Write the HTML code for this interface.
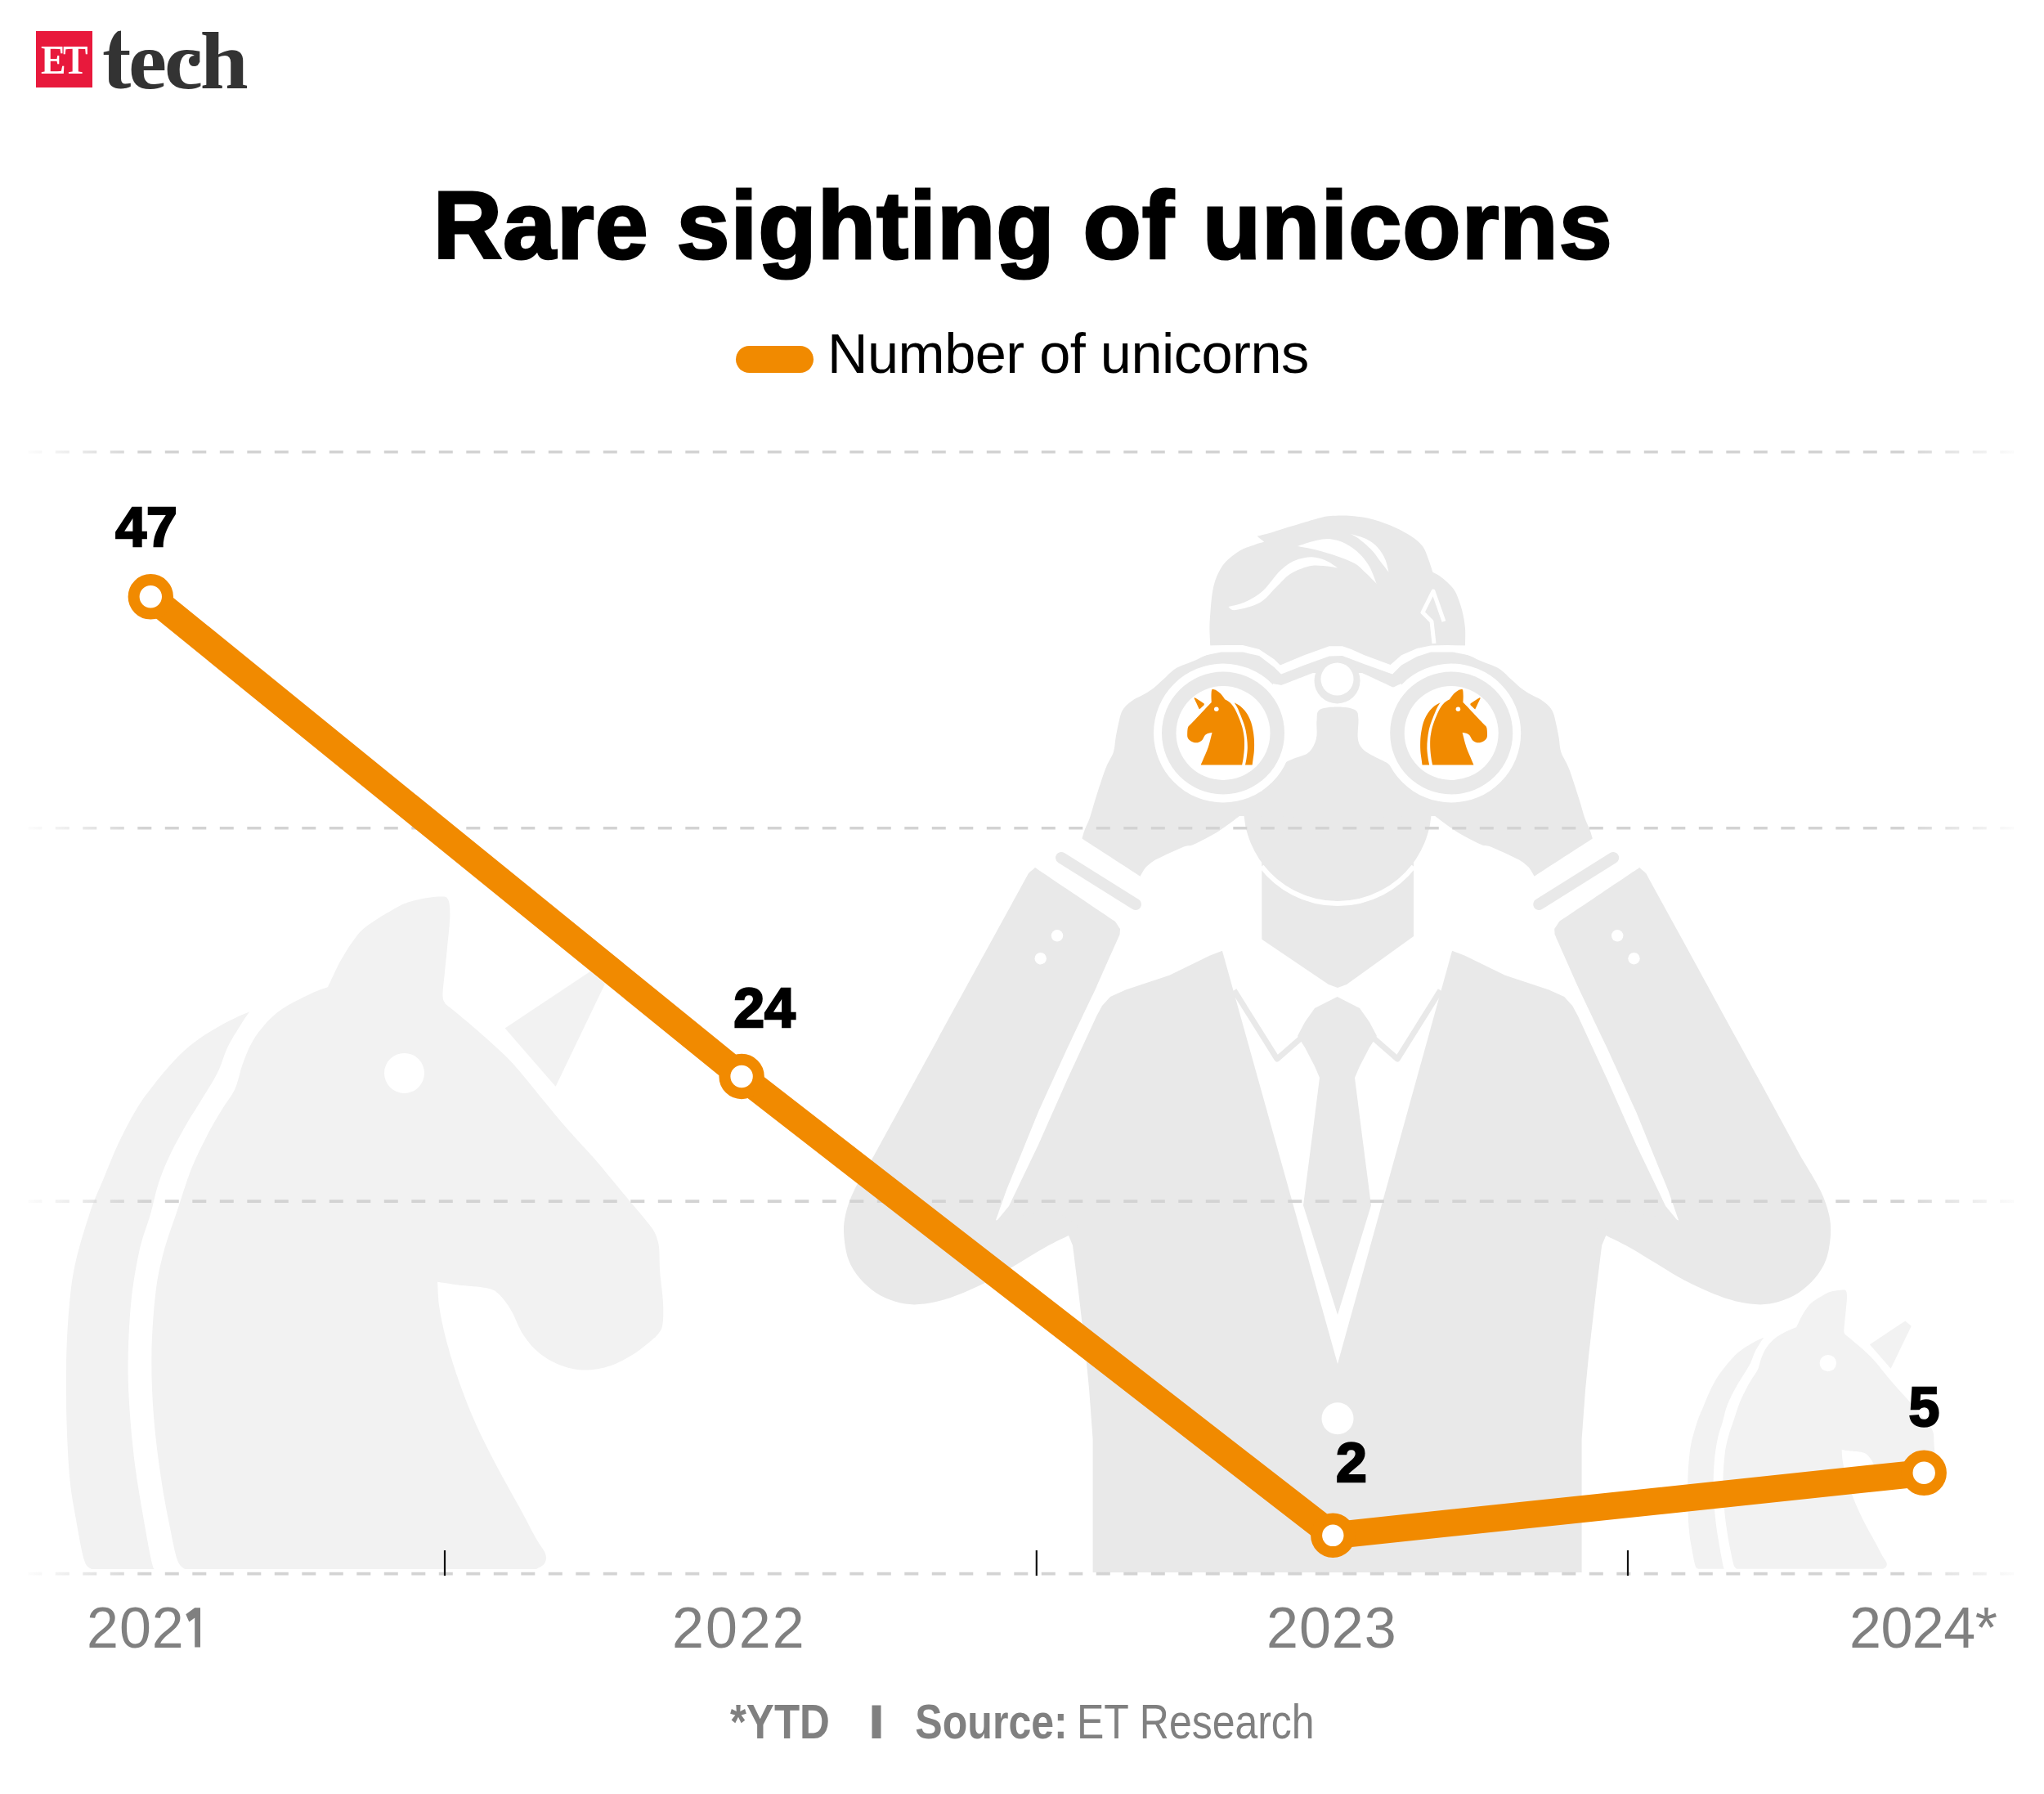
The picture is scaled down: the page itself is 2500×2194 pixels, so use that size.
<!DOCTYPE html>
<html><head><meta charset="utf-8">
<style>
html,body{margin:0;padding:0;background:#fff;width:2500px;height:2194px;overflow:hidden}
svg{position:absolute;left:0;top:0;display:block}
text{font-family:"Liberation Sans",sans-serif}
</style></head>
<body>
<svg width="2500" height="2194" viewBox="0 0 2500 2194">
<defs>
<linearGradient id="gfade" x1="0" y1="0" x2="2500" y2="0" gradientUnits="userSpaceOnUse">
<stop offset="0.01" stop-color="#d3d3d3" stop-opacity="0"/>
<stop offset="0.07" stop-color="#d3d3d3" stop-opacity="1"/>
<stop offset="0.93" stop-color="#d3d3d3" stop-opacity="1"/>
<stop offset="0.99" stop-color="#d3d3d3" stop-opacity="0"/>
</linearGradient>
</defs>

<!-- logo -->
<rect x="44" y="38" width="69" height="69" fill="#e8193c"/>
<text transform="translate(50 90) scale(0.9 1)" style="font-family:'Liberation Serif'" font-weight="bold" font-size="51" fill="#fff" letter-spacing="-4">ET</text>
<text transform="translate(125 107.5) scale(1.06 1)" style="font-family:'Liberation Serif'" font-weight="bold" font-size="100" fill="#333" letter-spacing="-3">tech</text>

<path d="M133.5,62 C134,52 138,43 144,38.2 L148,37.6 L148,62 Z" fill="#333"/>
<circle cx="237.5" cy="74.5" r="6.6" fill="#333"/>
<!-- title -->
<text x="530" y="315.5" font-weight="bold" font-size="116" fill="#000" stroke="#000" stroke-width="3.2" stroke-linejoin="miter" letter-spacing="1.52">Rare sighting of unicorns</text>

<!-- legend -->
<rect x="900" y="423" width="95" height="33" rx="16.5" fill="#f18a00"/>
<text x="1012" y="456" font-size="68.5" fill="#000" letter-spacing="-0.5">Number of unicorns</text>

<!-- silhouettes -->
<g fill="#f2f2f2"><path d="M112,1919C110.5,1917.2 106.2,1918.5 103,1908C99.8,1897.5 95.6,1873.2 92.6,1856.2C89.6,1839.2 87,1826.9 85.1,1806C83.2,1785.1 81.9,1755.9 81.3,1730.8C80.7,1705.7 80.7,1678.5 81.3,1655.5C81.9,1632.5 83.2,1611.7 85.1,1592.9C87,1574.1 88.3,1561.5 92.6,1542.7C96.9,1523.9 105.3,1496.9 111,1480C116.7,1463.1 121.2,1454.7 126.8,1441.2C132.4,1427.7 137.9,1412.9 144.6,1398.8C151.3,1384.7 159.5,1368.8 166.9,1356.5C174.3,1344.2 180.6,1336.1 189.2,1325.3C197.8,1314.5 208.9,1301.1 218.2,1291.8C227.5,1282.5 234.9,1276.5 244.9,1269.5C254.9,1262.5 268.4,1254.9 278.4,1249.5C288.4,1244.1 300.7,1239.2 305.1,1237.2C303.2,1240 298.4,1246.8 294,1254C289.6,1261.2 283.1,1271 278.4,1280.7C273.7,1290.4 271.6,1300.8 266,1312C260.4,1323.2 251.4,1336.8 244.9,1347.6C238.4,1358.3 233.4,1365.4 227.1,1376.5C220.8,1387.6 212.6,1402.5 207,1414.4C201.4,1426.3 197.4,1436.1 193.6,1447.9C189.8,1459.7 187.9,1471.3 184,1485C180.1,1498.7 174.2,1512.2 170.3,1530.2C166.4,1548.2 162.6,1569.9 160.3,1592.9C158,1615.9 156.8,1645.1 156.6,1668.1C156.4,1691.1 157.6,1709.9 159,1730.8C160.4,1751.7 162.6,1772.6 165.3,1793.5C168,1814.4 172,1836.5 175.4,1856.2C178.8,1876 183.6,1901.5 186,1912C188.4,1922.5 189.3,1917.8 190,1919C177,1919 125,1919 112,1919Z"/><path d="M226,1919C224.5,1917.2 220,1916.4 217,1908C214,1899.6 211.4,1885.7 208,1868.7C204.6,1851.7 200,1829 196.7,1806C193.3,1783 189.8,1755.9 187.9,1730.8C186,1705.7 185,1680.6 185.4,1655.5C185.8,1630.4 187.9,1601.2 190.4,1580.3C192.9,1559.4 196,1546.9 200.4,1530.2C204.8,1513.5 211.4,1496.7 217,1480C222.6,1463.3 227.7,1445.4 233.8,1430C239.9,1414.6 247.5,1400 253.8,1387.7C260.1,1375.5 266.1,1365.8 271.7,1356.5C277.3,1347.2 283.2,1340.9 287.3,1332C291.4,1323.1 292.9,1312.3 296.2,1303C299.5,1293.7 302.9,1284.4 307.4,1276.2C311.9,1268 316.7,1261 323,1253.9C329.3,1246.8 336,1240.1 345.3,1233.8C354.6,1227.5 369.4,1220.5 378.7,1216C388,1211.5 397.3,1208.6 401,1207.1C402.5,1203.9 407.2,1193.8 410,1188C412.8,1182.2 414.5,1178.6 418,1172.6C421.5,1166.6 426.1,1158.5 431,1152C435.9,1145.5 438.2,1140.6 447.5,1133.4C456.8,1126.2 476.3,1114.4 486.7,1108.9C497.1,1103.4 501.4,1102.6 510,1100.5C518.5,1098.4 531.7,1096.6 538,1096.5C544.3,1096.4 545.9,1096.1 548,1100C550.1,1103.9 550.5,1110.3 550.4,1120C550.2,1129.7 548.2,1146.1 547.1,1158C546,1169.9 544.6,1181.5 543.7,1191.5C542.8,1201.5 541.3,1212.1 541.5,1218.2C541.7,1224.3 544.4,1226.4 545,1228C547.5,1230 551.9,1233.2 560,1240C568.1,1246.8 582.2,1258.5 593.4,1268.5C604.5,1278.5 615.8,1288.3 626.9,1300.3C638,1312.3 649.1,1327 660.3,1340.4C671.4,1353.8 682.6,1367.7 693.8,1380.5C704.9,1393.3 716.1,1404.5 727.2,1417.3C738.4,1430.1 749.6,1444.1 760.7,1457.5C771.9,1470.9 787.2,1488.8 794.1,1497.6C801,1506.3 800.7,1507.9 802,1510C802.7,1512.5 805.1,1517.5 806,1525C806.9,1532.5 806.4,1543.9 807.2,1555.2C808,1566.5 810.5,1581.8 811,1592.9C811.5,1604 811.5,1615 810,1622C808.5,1629 803.3,1632.8 802,1635C797.6,1638.4 785.3,1649.6 775.9,1655.5C766.5,1661.4 755.8,1667.2 745.8,1670.6C735.8,1673.9 725.3,1675.6 715.7,1675.6C706.1,1675.6 697.3,1673.9 688.1,1670.6C678.9,1667.2 668.5,1661.8 660.5,1655.5C652.5,1649.2 646.2,1641.8 640.4,1633C634.5,1624.2 630.4,1611.3 625.4,1602.9C620.4,1594.5 615.3,1587.4 610.3,1582.8C605.3,1578.2 603.6,1577.2 595.3,1575.3C586.9,1573.4 570.2,1572.8 560.2,1571.5C550.2,1570.2 539.3,1568.4 535.1,1567.8C535.5,1573.2 535.5,1587.5 537.6,1600.4C539.7,1613.4 543.4,1630 547.6,1645.5C551.8,1661 556.8,1676.9 562.7,1693.2C568.6,1709.5 575.3,1726.6 582.8,1743.3C590.3,1760 599,1776.8 607.8,1793.5C616.6,1810.2 627.4,1829 635.4,1843.6C643.4,1858.2 650.2,1871.9 655.5,1881.3C660.8,1890.7 665.2,1894.9 667,1900C668.8,1905.1 667.8,1908.8 666,1912C664.2,1915.2 657.7,1917.8 656,1919C584.3,1919 297.7,1919 226,1919Z"/><path d="M617.7,1257.6 L722,1188 L740,1203 L679.6,1328.7Z"/><circle cx="494.5" cy="1312.4" r="24.5" fill="#fff"/></g><g fill="#e9e9e9"><path d="M1480.3,789.6C1480.2,786.1 1479.4,775 1479.4,768.5C1479.4,762 1479.7,758.2 1480.3,750.9C1480.9,743.6 1481.6,732.1 1482.9,724.5C1484.2,716.9 1485.6,711.3 1488.2,705.1C1490.8,698.9 1494,692.8 1498.7,687.5C1503.4,682.2 1510.5,676.9 1516.4,673.4C1522.3,669.9 1529,668.2 1534,666.4C1539,664.6 1544.2,663.4 1546.3,662.8C1544.8,661.6 1539,657 1537.5,655.8C1539.8,655.2 1544.5,654.3 1551.6,652.3C1558.6,650.2 1570.1,646.4 1579.8,643.5C1589.5,640.6 1601.8,636.8 1609.7,634.7C1617.6,632.6 1620,631.7 1627.3,631.1C1634.6,630.5 1644.9,630.4 1653.7,631.1C1662.5,631.8 1671.3,633.1 1680.1,635.5C1688.9,637.9 1699,641.8 1706.6,645.2C1714.2,648.6 1720.3,652 1725.9,655.8C1731.5,659.6 1736.5,663.4 1740,668.1C1743.5,672.8 1745,678.7 1747.1,684C1749.2,689.3 1751.5,697.2 1752.4,699.8C1754.2,700.8 1758.8,702.8 1762.9,706C1767,709.2 1773.5,714.7 1777,719.2C1780.5,723.8 1782,728 1784,733.3C1786,738.6 1788,745 1789.3,750.9C1790.6,756.8 1791.5,762.3 1792,768.5C1792.5,774.7 1792,784.7 1792,787.9C1790,816.6 1782,931.3 1780,960C1756,965 1660,985 1636,990C1612,985 1516,965 1492,960C1490,931.6 1482.2,818 1480.3,789.6Z"/><circle cx="1636" cy="987" r="115"/><path d="M1497,1162 L1480,1168.4 L1430.3,1192.8 L1376.8,1210.6 L1358,1219 L1348,1230 L1341,1243 L1305,1321 L1270,1400 L1234,1475 L1220,1492 L1307,1511 L1312,1523 L1319,1579 L1328,1657 L1332.2,1700 L1336.6,1760 L1336.6,1923 L1934.6,1923 L1934.6,1760 L1939,1700 L1943.2,1657 L1952.2,1579 L1959.2,1523 L1964.2,1511 L2051.2,1492 L2037.2,1475 L2001.2,1400 L1966.2,1321 L1930.2,1243 L1923.2,1230 L1913.2,1219 L1894.4,1210.6 L1840.9,1192.8 L1791.2,1168.4 L1774.2,1162Z"/><path d="M1258,1068C1259.3,1066.8 1264.7,1062.2 1266,1061C1282.3,1072 1347.7,1116 1364,1127C1365,1128.5 1369,1134.5 1370,1136C1369.9,1137.1 1369.7,1141.7 1369.6,1142.8C1364.8,1153.5 1345.8,1196.3 1341.1,1207C1335.1,1219.5 1311.4,1269.5 1305.4,1282C1299.5,1295.1 1275.7,1347.3 1269.7,1360.4C1263.2,1376.5 1237,1440.7 1230.5,1456.8C1228.4,1462.7 1220.1,1486.5 1218,1492.4C1230,1490.3 1278,1482.1 1290,1480C1295,1483.3 1315,1496.7 1320,1500C1317.8,1501.8 1309.2,1509.2 1307,1511C1302.3,1513.4 1289,1519.5 1278.7,1525.2C1268.4,1530.9 1256.5,1538.6 1245.3,1545.3C1234.1,1552 1222.9,1559.4 1211.8,1565.3C1200.7,1571.2 1189.6,1576.4 1178.4,1580.9C1167.2,1585.4 1154.9,1589.7 1144.9,1592.1C1134.9,1594.5 1126.4,1595.4 1118.2,1595.4C1110,1595.4 1103.7,1594.5 1095.9,1592.1C1088.1,1589.7 1078.7,1585.7 1071.3,1580.9C1063.9,1576.1 1056.9,1569.8 1051.3,1563.1C1045.7,1556.4 1041.1,1549.3 1037.9,1540.8C1034.7,1532.2 1033,1520.9 1032.3,1511.8C1031.6,1502.7 1032,1495.3 1034,1486C1036,1476.7 1039.3,1467.2 1044.6,1456C1049.9,1444.8 1062.4,1425.2 1066,1419C1075,1402.5 1111,1336.5 1120,1320C1143,1278 1235,1110 1258,1068Z"/><path d="M2013.2,1068C2011.9,1066.8 2006.5,1062.2 2005.2,1061C1988.9,1072 1923.5,1116 1907.2,1127C1906.2,1128.5 1902.2,1134.5 1901.2,1136C1901.3,1137.1 1901.5,1141.7 1901.6,1142.8C1906.3,1153.5 1925.3,1196.3 1930.1,1207C1936,1219.5 1959.8,1269.5 1965.8,1282C1971.7,1295.1 1995.5,1347.3 2001.5,1360.4C2008,1376.5 2034.2,1440.7 2040.7,1456.8C2042.8,1462.7 2051.1,1486.5 2053.2,1492.4C2041.2,1490.3 1993.2,1482.1 1981.2,1480C1976.2,1483.3 1956.2,1496.7 1951.2,1500C1953.4,1501.8 1962,1509.2 1964.2,1511C1968.9,1513.4 1982.2,1519.5 1992.5,1525.2C2002.8,1530.9 2014.8,1538.6 2025.9,1545.3C2037,1552 2048.2,1559.4 2059.4,1565.3C2070.5,1571.2 2081.6,1576.4 2092.8,1580.9C2103.9,1585.4 2116.3,1589.7 2126.3,1592.1C2136.3,1594.5 2144.8,1595.4 2153,1595.4C2161.2,1595.4 2167.5,1594.5 2175.3,1592.1C2183.1,1589.7 2192.5,1585.7 2199.9,1580.9C2207.3,1576.1 2214.3,1569.8 2219.9,1563.1C2225.5,1556.4 2230.1,1549.3 2233.3,1540.8C2236.5,1532.2 2238.2,1520.9 2238.9,1511.8C2239.5,1502.7 2239.2,1495.3 2237.2,1486C2235.1,1476.7 2231.9,1467.2 2226.6,1456C2221.3,1444.8 2208.8,1425.2 2205.2,1419C2196.2,1402.5 2160.2,1336.5 2151.2,1320C2128.2,1278 2036.2,1110 2013.2,1068Z"/><path d="M1323.4,1025.5C1324,1023.6 1325.4,1018.2 1327,1014C1328.6,1009.8 1330.8,1006.3 1333,1000C1335.2,993.7 1336.9,986.3 1340.1,976.3C1343.3,966.3 1348.6,949.5 1352.2,940.1C1355.8,930.7 1359.8,926.2 1361.8,920C1363.8,913.8 1363.5,908.6 1364.5,902.7C1365.5,896.9 1366.8,890.1 1368,884.9C1369.2,879.7 1370,875.2 1371.6,871.5C1373.2,867.8 1375.3,865.3 1377.8,862.6C1380.3,859.9 1383.5,857.5 1386.8,855.4C1390.1,853.3 1393.8,852.2 1397.5,850.1C1401.2,848 1404.8,846.1 1409,843C1413.2,839.9 1417.9,835.3 1422.4,831.3C1426.9,827.3 1431.3,822 1435.8,818.9C1440.3,815.8 1444.7,814.5 1449.2,812.6C1453.7,810.7 1458.1,809.2 1462.6,807.3C1467.1,805.4 1470.8,802.6 1476,801C1481.2,799.4 1486.5,798.1 1493.8,797.5C1501.1,796.9 1512.3,796.8 1520,797.5C1527.7,798.2 1533.6,799.1 1540,802C1546.4,804.9 1553.9,811.2 1558.4,815C1562.9,818.8 1565.6,823 1567,824.6C1571.7,822.8 1585.4,817.3 1595.2,813.6C1605,809.9 1618,804.5 1625.8,802.5C1633.6,800.5 1634.6,800.3 1641.8,801.9C1649,803.5 1658.4,808.5 1668.8,812.3C1679.2,816.1 1698.1,822.5 1704,824.6C1705.5,823 1708.3,818.8 1712.8,815C1717.3,811.2 1724.8,804.9 1731.2,802C1737.6,799.1 1743.5,798.2 1751.2,797.5C1758.9,796.8 1770.1,796.9 1777.4,797.5C1784.7,798.1 1790,799.4 1795.2,801C1800.4,802.6 1804.1,805.4 1808.6,807.3C1813.1,809.2 1817.5,810.7 1822,812.6C1826.5,814.5 1830.9,815.8 1835.4,818.9C1839.9,822 1844.3,827.3 1848.8,831.3C1853.3,835.3 1858,839.9 1862.2,843C1866.3,846.1 1870,848 1873.7,850.1C1877.4,852.2 1881.1,853.3 1884.4,855.4C1887.7,857.5 1890.9,859.9 1893.4,862.6C1895.9,865.3 1898,867.8 1899.6,871.5C1901.2,875.2 1902,879.7 1903.2,884.9C1904.4,890.1 1905.7,896.9 1906.7,902.7C1907.7,908.6 1907.3,913.8 1909.4,920C1911.4,926.2 1915.4,930.7 1919,940.1C1922.6,949.5 1927.9,966.3 1931.1,976.3C1934.3,986.3 1936,993.7 1938.2,1000C1940.4,1006.3 1942.6,1009.8 1944.2,1014C1945.8,1018.2 1947.2,1023.6 1947.8,1025.5C1935.9,1033.2 1888.5,1064 1876.6,1071.7C1875.4,1069.8 1872.3,1063.7 1869.6,1060.6C1866.9,1057.5 1863.3,1055 1860.2,1053C1857.1,1051 1857.4,1051.2 1851.2,1048.3C1845,1045.4 1829.9,1038.2 1823.2,1035.6C1816.4,1033 1817.8,1035.7 1810.7,1032.5C1803.6,1029.3 1789.8,1022.1 1780.6,1016.4C1771.3,1010.6 1759.4,1001.1 1755.2,998C1735.3,998.3 1655.9,999.7 1636,1000C1616,999.7 1536,998.3 1516,998C1511.8,1001.1 1499.8,1010.6 1490.6,1016.4C1481.3,1022.1 1467.6,1029.3 1460.5,1032.5C1453.4,1035.7 1454.8,1033 1448,1035.6C1441.2,1038.2 1426.2,1045.4 1420,1048.3C1413.8,1051.2 1414.1,1051 1411,1053C1407.9,1055 1404.3,1057.5 1401.6,1060.6C1398.9,1063.7 1395.8,1069.8 1394.6,1071.7C1382.7,1064 1335.3,1033.2 1323.4,1025.5Z"/></g><g fill="#fff"><path d="M1495,1163 L1636,1668 L1776,1163 L1776,1120 L1495,1120Z"/><path d="M1557,836C1558.7,836.3 1565.3,837.7 1567,838C1573.5,835.5 1599.5,825.5 1606,823C1616,823 1656,823 1666,823C1672.3,825.9 1697.7,837.7 1704,840.6C1705.7,839.8 1712.3,836.8 1714,836C1714,854.2 1714,926.8 1714,945C1712.2,944 1706,940.8 1703,938.7C1700,936.6 1699.8,935 1695.7,932.5C1691.6,930 1683.5,926.8 1678.6,923.9C1673.7,921 1669.3,918.9 1666.3,915.4C1663.3,911.9 1661.6,909.2 1660.8,903.1C1660,897 1662,884.5 1661.4,878.6C1660.8,872.8 1661.2,870.4 1657,868C1652.8,865.6 1643.2,864.5 1636,864.5C1628.8,864.5 1618.2,865.2 1614,868C1609.8,870.8 1611.1,875.8 1610.5,881C1609.9,886.2 1611.1,894.3 1610.5,899.4C1609.9,904.5 1608.7,908 1606.8,911.7C1604.9,915.4 1602.9,918.9 1598.9,921.5C1594.9,924.1 1587.6,925.6 1582.9,927.6C1578.2,929.6 1574.2,930.8 1570.7,933.7C1567.2,936.6 1563.5,943.1 1562,945C1561.2,945 1557.8,945 1557,945C1557,926.8 1557,854.2 1557,836Z"/></g><path d="M1543.3,1050 L1543.3,1148.8 L1625,1204 L1636,1208 L1647,1204 L1729,1145 L1729,1050Z" fill="#e9e9e9"/><path d="M1474,789.5 L1500,789 L1520,789 L1540,794 L1558.4,806.2 L1565.8,813.6 L1595.2,801.3 L1625.8,790.3 L1641.8,790.3 L1652.8,794 L1668.8,801.3 L1700.6,813 L1714.1,801.3 L1733,793 L1750,789.5 L1770,789 L1797,789.5 L1801,803 L1795.2,801 L1776.8,797.5 L1750,797.5 L1733,803 L1714.1,813.6 L1703.1,824.6 L1668.8,812.3 L1641.8,801.9 L1625.8,802.5 L1595.2,813.6 L1567,824.6 L1558.4,816 L1540,802 L1520,797.5 L1493.8,797.5 L1476,801 L1470,803Z" fill="#fff"/><path d="M1543,1059.6 A118,118 0 0,0 1729,1059.6" fill="none" stroke="#fff" stroke-width="6"/><circle cx="1496" cy="896.5" r="85" fill="#fff"/><circle cx="1496" cy="896.5" r="75" fill="#e9e9e9"/><circle cx="1496" cy="896.5" r="57.5" fill="#fff"/><circle cx="1775.2" cy="896.5" r="85" fill="#fff"/><circle cx="1775.2" cy="896.5" r="75" fill="#e9e9e9"/><circle cx="1775.2" cy="896.5" r="57.5" fill="#fff"/><circle cx="1635.5" cy="832.5" r="28" fill="#e9e9e9"/><circle cx="1635.5" cy="830.5" r="20" fill="#fff"/><g stroke="#e9e9e9" stroke-width="14" stroke-linecap="round"><line x1="1298" y1="1049" x2="1389" y2="1106"/><line x1="1973.2" y1="1049" x2="1882.2" y2="1106"/></g><g fill="none" stroke="#e9e9e9" stroke-width="7" stroke-linejoin="round"><polyline points="1509.4,1211.2 1562,1295.1 1590.6,1270.1"/><polyline points="1761.8,1211.2 1709.2,1295.1 1680.6,1270.1"/></g><path d="M1635.6,1219 L1608,1233 L1596,1250 L1587,1267 L1596,1281 L1608,1304 L1614,1318 L1605,1389 L1594,1474 L1636,1608 L1677,1474 L1666,1389 L1657,1318 L1663,1304 L1675,1281 L1684,1267 L1675,1250 L1663,1233Z" fill="#e9e9e9"/><g fill="#fff"><circle cx="1636" cy="1734.7" r="19.5"/><circle cx="1293" cy="1144.3" r="7.2"/><circle cx="1978.2" cy="1144.3" r="7.2"/><circle cx="1272.7" cy="1172.2" r="7.2"/><circle cx="1998.5" cy="1172.2" r="7.2"/></g><g fill="#fff"><path d="M1502.3,742.1C1505.5,741.2 1514.6,740 1521.6,736.8C1528.6,733.6 1537.2,729.2 1544.5,722.7C1551.8,716.2 1559.2,704.3 1565.7,698.1C1572.2,691.9 1576.8,688.5 1583.3,685.7C1589.8,682.9 1598,681.3 1604.4,681.3C1610.9,681.3 1616.7,683.5 1622,685.7C1627.3,687.9 1633.8,693 1636.1,694.5C1633.2,694.1 1624.4,692.3 1618.5,692C1612.6,691.7 1607.7,690.8 1600.9,692.5C1594.2,694.2 1584.7,697.8 1578,702C1571.3,706.2 1567.2,712.2 1561,718C1554.8,723.8 1549.3,732.3 1541,737C1532.7,741.7 1517.5,745.1 1511.1,746C1504.6,746.9 1503.8,742.8 1502.3,742.1Z"/><path d="M1586.8,668.1C1590.6,666.9 1603,662.6 1609.7,661.1C1616.5,659.6 1621.4,658.7 1627.3,659.3C1633.2,659.9 1639.1,661.7 1645,664.6C1650.9,667.5 1657.5,672.2 1662.5,676.9C1667.5,681.6 1671.4,686.6 1674.9,692.8C1678.4,699 1682.2,710.4 1683.7,713.9C1681.6,711.9 1675.7,705.7 1671.3,701.6C1666.9,697.5 1663.2,692.8 1657.3,689.3C1651.4,685.8 1644,683.2 1636.1,680.4C1628.2,677.6 1617.9,674.5 1609.7,672.5C1601.5,670.5 1590.6,668.8 1586.8,668.1Z"/><path d="M1652,653.1C1655.2,654.1 1665.7,656.5 1671.3,659.3C1676.9,662.1 1681.6,665.8 1685.4,669.9C1689.2,674 1692,679 1694.2,684C1696.4,689 1697.9,697.2 1698.6,699.8C1697,697.8 1692.4,691.9 1689,687.5C1685.6,683.1 1682.8,678.1 1678.4,673.4C1674,668.7 1666.9,662.7 1662.5,659.3C1658.1,655.9 1653.8,654.1 1652,653.1Z"/></g><g fill="none" stroke="#fff" stroke-width="5" stroke-linejoin="round"><polyline points="1754,787 1751,760 1740,749 1753,723 1766,760"/></g><g transform="translate(1450 840) scale(0.05574)" fill="#f18a00"><path d="M335,1715C345.8,1689.2 377.5,1612.5 400,1560C422.5,1507.5 450,1451.7 470,1400C490,1348.3 505,1300 520,1250C535,1200 550,1138.3 560,1100C570,1061.7 575,1035.8 580,1020C585,1004.2 588.3,1007.5 590,1005C581.7,1005.8 560,1005.8 540,1010C520,1014.2 488.3,1021.7 470,1030C451.7,1038.3 441.7,1046.7 430,1060C418.3,1073.3 410,1093.3 400,1110C390,1126.7 383.3,1145 370,1160C356.7,1175 340,1189.2 320,1200C300,1210.8 275,1222.5 250,1225C225,1227.5 196.7,1224.2 170,1215C143.3,1205.8 110.8,1187.5 90,1170C69.2,1152.5 53.3,1138.3 45,1110C36.7,1081.7 39.2,1035 40,1000C40.8,965 45,923.3 50,900C55,876.7 66.7,866.7 70,860C91.7,838.3 153.3,778.3 200,730C246.7,681.7 303.3,620 350,570C396.7,520 443.3,468.3 480,430C516.7,391.7 555,355 570,340C569.2,316.7 564.2,245 565,200C565.8,155 567.5,94.2 575,70C582.5,45.8 592.5,53.3 610,55C627.5,56.7 655,65.8 680,80C705,94.2 736.7,118.3 760,140C783.3,161.7 802.5,187.5 820,210C837.5,232.5 857.5,264.2 865,275C877.5,282.5 915.8,302.5 940,320C964.2,337.5 990,358.3 1010,380C1030,401.7 1041.7,420 1060,450C1078.3,480 1100,518.3 1120,560C1140,601.7 1160,648.3 1180,700C1200,751.7 1225,820 1240,870C1255,920 1261.7,953.3 1270,1000C1278.3,1046.7 1286.7,1091.7 1290,1150C1293.3,1208.3 1293.3,1283.3 1290,1350C1286.7,1416.7 1278.3,1489.2 1270,1550C1261.7,1610.8 1245,1687.5 1240,1715C1089.2,1715 485.8,1715 335,1715Z"/><path d="M1070,345C1091.7,357.5 1161.7,390.8 1200,420C1238.3,449.2 1270,483.3 1300,520C1330,556.7 1356.7,596.7 1380,640C1403.3,683.3 1423.3,728.3 1440,780C1456.7,831.7 1469.2,888.3 1480,950C1490.8,1011.7 1500.8,1075 1505,1150C1509.2,1225 1509.2,1325 1505,1400C1500.8,1475 1486.7,1547.5 1480,1600C1473.3,1652.5 1467.5,1695.8 1465,1715C1439.2,1715 1335.8,1715 1310,1715C1315,1687.5 1331.7,1610.8 1340,1550C1348.3,1489.2 1358.3,1416.7 1360,1350C1361.7,1283.3 1356.7,1216.7 1350,1150C1343.3,1083.3 1333.3,1011.7 1320,950C1306.7,888.3 1290,838.3 1270,780C1250,721.7 1221.7,653.3 1200,600C1178.3,546.7 1161.7,502.5 1140,460C1118.3,417.5 1081.7,364.2 1070,345Z"/><path d="M190,250C195,249.2 184.2,225.8 220,245C255.8,264.2 374.2,345 405,365C405.8,370 409.2,390 410,395C392.5,411.7 322.5,478.3 305,495C285.8,454.2 209.2,290.8 190,250Z"/><circle cx="678" cy="488" r="50" fill="#fff"/></g><g transform="translate(3271.2 0) scale(-1 1) translate(1450 840) scale(0.05574)" fill="#f18a00"><path d="M335,1715C345.8,1689.2 377.5,1612.5 400,1560C422.5,1507.5 450,1451.7 470,1400C490,1348.3 505,1300 520,1250C535,1200 550,1138.3 560,1100C570,1061.7 575,1035.8 580,1020C585,1004.2 588.3,1007.5 590,1005C581.7,1005.8 560,1005.8 540,1010C520,1014.2 488.3,1021.7 470,1030C451.7,1038.3 441.7,1046.7 430,1060C418.3,1073.3 410,1093.3 400,1110C390,1126.7 383.3,1145 370,1160C356.7,1175 340,1189.2 320,1200C300,1210.8 275,1222.5 250,1225C225,1227.5 196.7,1224.2 170,1215C143.3,1205.8 110.8,1187.5 90,1170C69.2,1152.5 53.3,1138.3 45,1110C36.7,1081.7 39.2,1035 40,1000C40.8,965 45,923.3 50,900C55,876.7 66.7,866.7 70,860C91.7,838.3 153.3,778.3 200,730C246.7,681.7 303.3,620 350,570C396.7,520 443.3,468.3 480,430C516.7,391.7 555,355 570,340C569.2,316.7 564.2,245 565,200C565.8,155 567.5,94.2 575,70C582.5,45.8 592.5,53.3 610,55C627.5,56.7 655,65.8 680,80C705,94.2 736.7,118.3 760,140C783.3,161.7 802.5,187.5 820,210C837.5,232.5 857.5,264.2 865,275C877.5,282.5 915.8,302.5 940,320C964.2,337.5 990,358.3 1010,380C1030,401.7 1041.7,420 1060,450C1078.3,480 1100,518.3 1120,560C1140,601.7 1160,648.3 1180,700C1200,751.7 1225,820 1240,870C1255,920 1261.7,953.3 1270,1000C1278.3,1046.7 1286.7,1091.7 1290,1150C1293.3,1208.3 1293.3,1283.3 1290,1350C1286.7,1416.7 1278.3,1489.2 1270,1550C1261.7,1610.8 1245,1687.5 1240,1715C1089.2,1715 485.8,1715 335,1715Z"/><path d="M1070,345C1091.7,357.5 1161.7,390.8 1200,420C1238.3,449.2 1270,483.3 1300,520C1330,556.7 1356.7,596.7 1380,640C1403.3,683.3 1423.3,728.3 1440,780C1456.7,831.7 1469.2,888.3 1480,950C1490.8,1011.7 1500.8,1075 1505,1150C1509.2,1225 1509.2,1325 1505,1400C1500.8,1475 1486.7,1547.5 1480,1600C1473.3,1652.5 1467.5,1695.8 1465,1715C1439.2,1715 1335.8,1715 1310,1715C1315,1687.5 1331.7,1610.8 1340,1550C1348.3,1489.2 1358.3,1416.7 1360,1350C1361.7,1283.3 1356.7,1216.7 1350,1150C1343.3,1083.3 1333.3,1011.7 1320,950C1306.7,888.3 1290,838.3 1270,780C1250,721.7 1221.7,653.3 1200,600C1178.3,546.7 1161.7,502.5 1140,460C1118.3,417.5 1081.7,364.2 1070,345Z"/><path d="M190,250C195,249.2 184.2,225.8 220,245C255.8,264.2 374.2,345 405,365C405.8,370 409.2,390 410,395C392.5,411.7 322.5,478.3 305,495C285.8,454.2 209.2,290.8 190,250Z"/><circle cx="678" cy="488" r="50" fill="#fff"/></g><g transform="translate(2030.6 1122.4) scale(0.415)" fill="#f2f2f2"><path d="M112,1919C110.5,1917.2 106.2,1918.5 103,1908C99.8,1897.5 95.6,1873.2 92.6,1856.2C89.6,1839.2 87,1826.9 85.1,1806C83.2,1785.1 81.9,1755.9 81.3,1730.8C80.7,1705.7 80.7,1678.5 81.3,1655.5C81.9,1632.5 83.2,1611.7 85.1,1592.9C87,1574.1 88.3,1561.5 92.6,1542.7C96.9,1523.9 105.3,1496.9 111,1480C116.7,1463.1 121.2,1454.7 126.8,1441.2C132.4,1427.7 137.9,1412.9 144.6,1398.8C151.3,1384.7 159.5,1368.8 166.9,1356.5C174.3,1344.2 180.6,1336.1 189.2,1325.3C197.8,1314.5 208.9,1301.1 218.2,1291.8C227.5,1282.5 234.9,1276.5 244.9,1269.5C254.9,1262.5 268.4,1254.9 278.4,1249.5C288.4,1244.1 300.7,1239.2 305.1,1237.2C303.2,1240 298.4,1246.8 294,1254C289.6,1261.2 283.1,1271 278.4,1280.7C273.7,1290.4 271.6,1300.8 266,1312C260.4,1323.2 251.4,1336.8 244.9,1347.6C238.4,1358.3 233.4,1365.4 227.1,1376.5C220.8,1387.6 212.6,1402.5 207,1414.4C201.4,1426.3 197.4,1436.1 193.6,1447.9C189.8,1459.7 187.9,1471.3 184,1485C180.1,1498.7 174.2,1512.2 170.3,1530.2C166.4,1548.2 162.6,1569.9 160.3,1592.9C158,1615.9 156.8,1645.1 156.6,1668.1C156.4,1691.1 157.6,1709.9 159,1730.8C160.4,1751.7 162.6,1772.6 165.3,1793.5C168,1814.4 172,1836.5 175.4,1856.2C178.8,1876 183.6,1901.5 186,1912C188.4,1922.5 189.3,1917.8 190,1919C177,1919 125,1919 112,1919Z"/><path d="M226,1919C224.5,1917.2 220,1916.4 217,1908C214,1899.6 211.4,1885.7 208,1868.7C204.6,1851.7 200,1829 196.7,1806C193.3,1783 189.8,1755.9 187.9,1730.8C186,1705.7 185,1680.6 185.4,1655.5C185.8,1630.4 187.9,1601.2 190.4,1580.3C192.9,1559.4 196,1546.9 200.4,1530.2C204.8,1513.5 211.4,1496.7 217,1480C222.6,1463.3 227.7,1445.4 233.8,1430C239.9,1414.6 247.5,1400 253.8,1387.7C260.1,1375.5 266.1,1365.8 271.7,1356.5C277.3,1347.2 283.2,1340.9 287.3,1332C291.4,1323.1 292.9,1312.3 296.2,1303C299.5,1293.7 302.9,1284.4 307.4,1276.2C311.9,1268 316.7,1261 323,1253.9C329.3,1246.8 336,1240.1 345.3,1233.8C354.6,1227.5 369.4,1220.5 378.7,1216C388,1211.5 397.3,1208.6 401,1207.1C402.5,1203.9 407.2,1193.8 410,1188C412.8,1182.2 414.5,1178.6 418,1172.6C421.5,1166.6 426.1,1158.5 431,1152C435.9,1145.5 438.2,1140.6 447.5,1133.4C456.8,1126.2 476.3,1114.4 486.7,1108.9C497.1,1103.4 501.4,1102.6 510,1100.5C518.5,1098.4 531.7,1096.6 538,1096.5C544.3,1096.4 545.9,1096.1 548,1100C550.1,1103.9 550.5,1110.3 550.4,1120C550.2,1129.7 548.2,1146.1 547.1,1158C546,1169.9 544.6,1181.5 543.7,1191.5C542.8,1201.5 541.3,1212.1 541.5,1218.2C541.7,1224.3 544.4,1226.4 545,1228C547.5,1230 551.9,1233.2 560,1240C568.1,1246.8 582.2,1258.5 593.4,1268.5C604.5,1278.5 615.8,1288.3 626.9,1300.3C638,1312.3 649.1,1327 660.3,1340.4C671.4,1353.8 682.6,1367.7 693.8,1380.5C704.9,1393.3 716.1,1404.5 727.2,1417.3C738.4,1430.1 749.6,1444.1 760.7,1457.5C771.9,1470.9 787.2,1488.8 794.1,1497.6C801,1506.3 800.7,1507.9 802,1510C802.7,1512.5 805.1,1517.5 806,1525C806.9,1532.5 806.4,1543.9 807.2,1555.2C808,1566.5 810.5,1581.8 811,1592.9C811.5,1604 811.5,1615 810,1622C808.5,1629 803.3,1632.8 802,1635C797.6,1638.4 785.3,1649.6 775.9,1655.5C766.5,1661.4 755.8,1667.2 745.8,1670.6C735.8,1673.9 725.3,1675.6 715.7,1675.6C706.1,1675.6 697.3,1673.9 688.1,1670.6C678.9,1667.2 668.5,1661.8 660.5,1655.5C652.5,1649.2 646.2,1641.8 640.4,1633C634.5,1624.2 630.4,1611.3 625.4,1602.9C620.4,1594.5 615.3,1587.4 610.3,1582.8C605.3,1578.2 603.6,1577.2 595.3,1575.3C586.9,1573.4 570.2,1572.8 560.2,1571.5C550.2,1570.2 539.3,1568.4 535.1,1567.8C535.5,1573.2 535.5,1587.5 537.6,1600.4C539.7,1613.4 543.4,1630 547.6,1645.5C551.8,1661 556.8,1676.9 562.7,1693.2C568.6,1709.5 575.3,1726.6 582.8,1743.3C590.3,1760 599,1776.8 607.8,1793.5C616.6,1810.2 627.4,1829 635.4,1843.6C643.4,1858.2 650.2,1871.9 655.5,1881.3C660.8,1890.7 665.2,1894.9 667,1900C668.8,1905.1 667.8,1908.8 666,1912C664.2,1915.2 657.7,1917.8 656,1919C584.3,1919 297.7,1919 226,1919Z"/><path d="M617.7,1257.6 L722,1188 L740,1203 L679.6,1328.7Z"/><circle cx="494.5" cy="1312.4" r="24.5" fill="#fff"/></g>

<!-- gridlines -->
<g stroke="url(#gfade)" stroke-width="3.6" stroke-dasharray="17 16.5" stroke-dashoffset="-0.8">
<line x1="0" y1="552.8" x2="2500" y2="552.8"/>
<line x1="0" y1="1012.8" x2="2500" y2="1012.8"/>
<line x1="0" y1="1469.1" x2="2500" y2="1469.1"/>
<line x1="0" y1="1924.6" x2="2500" y2="1924.6"/>
</g>
<!-- ticks -->
<g stroke="#111" stroke-width="2.2">
<line x1="544" y1="1896" x2="544" y2="1927"/>
<line x1="1267.8" y1="1896" x2="1267.8" y2="1927"/>
<line x1="1991" y1="1896" x2="1991" y2="1927"/>
</g>

<!-- data line -->
<polyline points="184.3,729.8 907.1,1316.5 1630.3,1877.8 2353.2,1801.3" fill="none" stroke="#f18a00" stroke-width="33" stroke-linejoin="round"/>
<g fill="#fff" stroke="#f18a00" stroke-width="14">
<circle cx="184.3" cy="729.8" r="20.7"/>
<circle cx="907.1" cy="1316.5" r="20.7"/>
<circle cx="1630.3" cy="1877.8" r="20.2"/>
<circle cx="2353.2" cy="1801.3" r="20.7"/>
</g>

<!-- data labels -->
<g font-weight="bold" font-size="68" fill="#000" stroke="#000" stroke-width="2.4" stroke-linejoin="miter" text-anchor="middle">
<text x="179" y="668.3">47</text>
<text x="935" y="1256">24</text>
<text x="1653" y="1811.8">2</text>
<text x="2353.5" y="1743.7">5</text>
</g>

<!-- x labels -->
<g font-size="70" fill="#808080">
<text x="106" y="2014.5" letter-spacing="1">202</text><path d="M227.3,1974.2 L238.2,1966.2 L245,1966.2 L245,2014.5 L238.2,2014.5 L238.2,1978.4 L231.3,1983.6 Z"/>
<text x="822" y="2014.5" letter-spacing="2">2022</text>
<text x="1549" y="2014.5" letter-spacing="1">2023</text>
<text x="2262" y="2014.5" letter-spacing="-0.5">2024*</text>
</g>

<!-- footer -->
<g fill="#808080" font-size="59">
<text transform="translate(893 2126) scale(0.865 1)" font-weight="bold">*YTD</text>
<rect x="1066.5" y="2085.5" width="11" height="40.5"/>
<text transform="translate(1119.3 2126) scale(0.849 1)" font-weight="bold">Source:</text>
<text transform="translate(1317 2126) scale(0.847 1)">ET Research</text>
</g>
</svg>
</body></html>
